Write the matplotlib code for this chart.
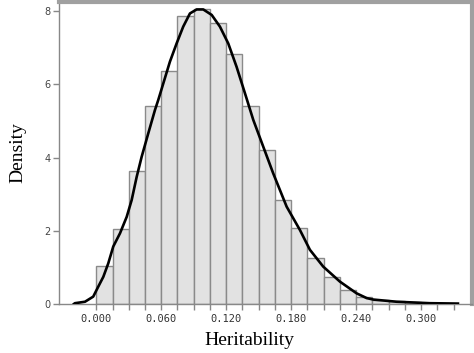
import numpy as np
import matplotlib
matplotlib.use('Agg')
import matplotlib.pyplot as plt

# Histogram of heritability estimates (bin width 0.015, starting at 0.000)
bin_width = 0.015
bin_heights = [1.05, 2.04, 3.63, 5.42, 6.38, 7.88, 8.06, 7.69, 6.83, 5.41, 4.22,
               2.84, 2.07, 1.25, 0.73, 0.38, 0.20, 0.12, 0.07, 0.04, 0.02, 0.01]

# Density curve
curve_x = [-0.0206, -0.0197, -0.0104, -0.0028, 0.0018, 0.0065, 0.0111, 0.0157,
           0.0219, 0.0281, 0.0327, 0.0373, 0.0419, 0.048, 0.0542, 0.0572,
           0.068, 0.0742, 0.0803, 0.0865, 0.0927, 0.0988, 0.1066, 0.1142,
           0.1219, 0.1296, 0.1373, 0.145, 0.1542, 0.1634, 0.1758, 0.1881,
           0.1973, 0.2096, 0.225, 0.2404, 0.2497, 0.2558, 0.2774, 0.308, 0.334]
curve_y = [0.0, 0.02, 0.06, 0.20, 0.47, 0.74, 1.11, 1.57,
           1.93, 2.38, 2.84, 3.47, 4.02, 4.66, 5.30, 5.57,
           6.62, 7.12, 7.58, 7.94, 8.05, 8.05, 7.90, 7.58,
           7.12, 6.48, 5.76, 5.03, 4.30, 3.57, 2.66, 2.02,
           1.48, 1.02, 0.61, 0.29, 0.16, 0.12, 0.06, 0.02, 0.01]

x_ticks = [0.000, 0.060, 0.120, 0.180, 0.240, 0.300]
y_ticks = [0, 2, 4, 6, 8]

fig = plt.figure(figsize=(4.74, 3.53), dpi=100)
ax = fig.add_axes([0.1245, 0.139, 0.8713, 0.855])

left_edges = np.arange(len(bin_heights)) * bin_width
ax.bar(left_edges, bin_heights, width=bin_width, align='edge',
       facecolor='#e2e2e2', edgecolor='#8a8a8a', linewidth=1.0, zorder=2)
ax.plot(curve_x, curve_y, color='black', linewidth=1.9, zorder=3,
        solid_joinstyle='round')

ax.set_xlim(-0.0344, 0.347)
ax.set_ylim(0, 8.25)

ax.set_xticks(x_ticks)
ax.set_xticklabels(['%.3f' % v for v in x_ticks], family='DejaVu Sans Mono',
                   fontsize=7.5, color='#333333')
ax.set_xticks(np.arange(0, 0.34, bin_width), minor=True)
ax.set_yticks(y_ticks)
ax.set_yticklabels([str(v) for v in y_ticks], fontsize=7, color='#444444')
ax.tick_params(axis='both', which='both', direction='out', length=4,
               color='#888888', width=1)
ax.tick_params(axis='x', pad=3)
ax.tick_params(axis='y', pad=2)

for side in ['left', 'bottom']:
    ax.spines[side].set_color('#888888')
    ax.spines[side].set_linewidth(1.0)
for side in ['top', 'right']:
    ax.spines[side].set_color('#a0a0a0')
    ax.spines[side].set_linewidth(3.0)

ax.set_xlabel('Heritability', family='Liberation Serif', fontsize=14,
              labelpad=6, x=0.46)
ax.set_ylabel('Density', family='Liberation Serif', fontsize=14, labelpad=13)

fig.savefig('out.png', dpi=100)
